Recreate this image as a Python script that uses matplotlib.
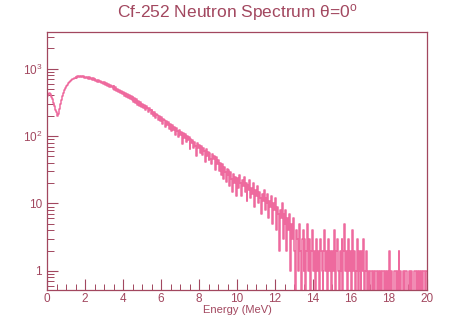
import numpy as np
import matplotlib
matplotlib.use('Agg')
import matplotlib.pyplot as plt
from matplotlib.ticker import FixedLocator, FixedFormatter, MultipleLocator, NullFormatter

plt.rcParams['font.family'] = ['Liberation Sans', 'DejaVu Sans']
plt.rcParams['mathtext.fontset'] = 'custom'
plt.rcParams['mathtext.rm'] = 'Liberation Sans'
plt.rcParams['mathtext.it'] = 'Liberation Sans:italic'

# histogram: 0.05 MeV bins, counts
counts_0_5 = [392, 428, 441, 418, 380, 352, 306, 279, 243, 224,
              203, 197, 214, 248, 303, 347, 398, 436, 482, 511,
              552, 574, 612, 627, 661, 668, 695, 701, 722, 724,
              744, 729, 768, 751, 779, 752, 785, 748, 772, 739,
              762, 731, 755, 712, 741, 709, 728, 686, 716, 671,
              699, 662, 688, 641, 672, 629, 661, 608, 641, 597,
              624, 581, 610, 559, 597, 541, 579, 528, 561, 507,
              546, 489, 527, 468, 506, 452, 489, 431, 468, 418,
              452, 397, 437, 381, 421, 366, 407, 349, 391, 338,
              378, 321, 361, 309, 349, 294, 336, 283, 322, 271]
counts_5_10 = [301, 262, 289, 246, 279, 262, 231, 258, 246, 209,
               241, 229, 198, 224, 184, 213, 205, 172, 198, 166,
               189, 152, 181, 172, 137, 167, 145, 161, 126, 152,
               138, 117, 144, 124, 134, 104, 130, 118, 96, 122,
               105, 115, 76, 110, 94, 106, 81, 99, 86, 96,
               64, 91, 78, 87, 66, 82, 71, 50, 79, 66,
               74, 56, 71, 53, 67, 61, 41, 64, 50, 59,
               44, 57, 46, 39, 55, 45, 51, 31, 49, 39,
               44, 30, 40, 26, 38, 23, 35, 29, 21, 33,
               26, 31, 18, 29, 23, 15, 27, 20, 25, 13]
counts_10_15 = [24, 17, 26, 20, 13, 22, 18, 25, 15, 20,
                11, 19, 16, 22, 12, 17, 14, 20, 9, 16,
                13, 18, 10, 15, 12, 7, 14, 11, 16, 8,
                12, 10, 14, 6, 11, 9, 13, 5, 10, 8,
                12, 4, 9, 7, 2, 8, 6, 10, 3, 7,
                5, 8, 2, 6, 4, 7, 1, 5, 3, 6,
                2, 0, 4, 3, 1, 5, 2, 0, 3, 4,
                1, 3, 0, 2, 5, 1, 3, 0, 2, 4,
                1, 2, 0, 3, 1, 2, 0, 3, 2, 1,
                0, 2, 4, 1, 2, 0, 3, 1, 2, 0]
counts_15_20 = [2, 1, 4, 0, 2, 3, 1, 0, 2, 1,
                3, 0, 2, 5, 1, 2, 0, 3, 1, 2,
                0, 4, 1, 2, 0, 1, 3, 0, 2, 1,
                0, 2, 1, 3, 0, 1, 2, 0, 1, 0,
                1, 1, 0, 1, 0, 1, 1, 0, 1, 0,
                0, 1, 0, 1, 1, 0, 1, 0, 1, 0,
                2, 0, 1, 0, 0, 1, 1, 0, 1, 0,
                2, 0, 1, 0, 0, 1, 0, 1, 1, 0,
                0, 1, 0, 1, 0, 0, 1, 1, 0, 1,
                0, 0, 1, 0, 1, 0, 1, 1, 0, 1]

e_min, e_max = 0.0, 20.0
ytick_vals = [1, 10, 100, 1000]
ytick_labels = ['1', '10', '$10^{2}$', '$10^{3}$']
xtick_vals = [0, 2, 4, 6, 8, 10, 12, 14, 16, 18, 20]

counts = np.array(counts_0_5 + counts_5_10 + counts_10_15 + counts_15_20, dtype=float)
edges = np.linspace(e_min, e_max, len(counts) + 1)
yplot = np.where(counts > 0, counts, 1e-3)  # empty bins drop off the log axis

axcol = '#a2475f'
linecol = '#ee6a9e'

fig = plt.figure(figsize=(4.74, 3.23), dpi=100)
ax = fig.add_axes([47 / 474, 33 / 323, 380 / 474, 258 / 323])
ax.step(edges, np.append(yplot, yplot[-1]), where='post', color=linecol, lw=1.1)

ax.set_yscale('log')
ax.set_xlim(e_min, e_max)
ax.set_ylim(0.52, 3500)

ax.yaxis.set_major_locator(FixedLocator(ytick_vals))
ax.yaxis.set_major_formatter(FixedFormatter(ytick_labels))
ax.yaxis.set_minor_formatter(NullFormatter())
ax.xaxis.set_major_locator(FixedLocator(xtick_vals))
ax.xaxis.set_minor_locator(MultipleLocator(0.5))

ax.tick_params(which='both', direction='in', colors=axcol, labelcolor=axcol,
               top=False, right=False, labelsize=8.5)
ax.tick_params(which='major', length=8, width=0.8)
ax.tick_params(which='minor', length=4, width=0.7)
ax.tick_params(axis='y', which='minor', length=5)
ax.tick_params(axis='x', pad=2)
for s in ax.spines.values():
    s.set_color(axcol)
    s.set_linewidth(0.9)

fig.text(0.5, 1 - 310 / 323, 'Energy (MeV)', color=axcol, fontsize=8,
         ha='center', va='center')
fig.text(0.5, 1 - 12 / 323, r'Cf-252 Neutron Spectrum θ=0$^{\rm o}$', color=axcol,
         fontsize=12.5, ha='center', va='center')

fig.savefig('out.png', dpi=100)
